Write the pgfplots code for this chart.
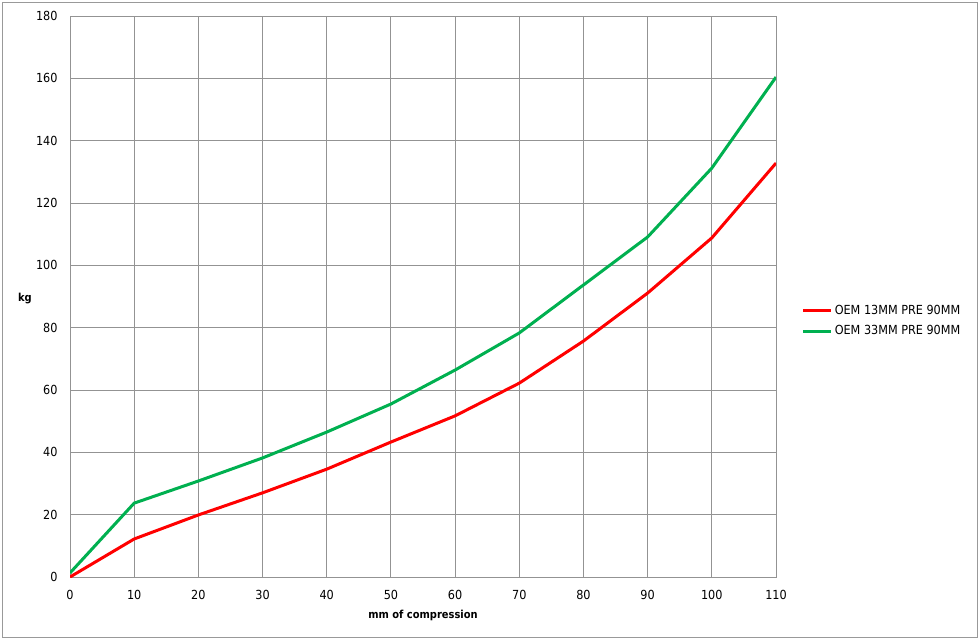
\documentclass[border=0pt]{standalone}
\usepackage{pgfplots}
\pgfplotsset{compat=1.18}
\usepackage{fontspec}
\setmainfont{DejaVu Sans Condensed}
\begin{document}
\begin{tikzpicture}
\path[fill=white] (0pt,0pt) rectangle (980pt,641pt);
\draw[gray!80,line width=1pt] (2.5pt,3.5pt) rectangle (977.5pt,638.5pt);
\begin{axis}[
  at={(70pt,64pt)}, anchor=south west,
  scale only axis, width=706pt, height=561pt,
  xmin=0, xmax=110, ymin=0, ymax=180,
  xtick={0,10,...,110}, ytick={0,20,...,180},
  grid=major, grid style={gray!85, line width=0.9pt},
  axis line style={gray!85, line width=0.9pt},
  major tick length=0pt,
  tick label style={font=\fontsize{12.5}{14}\selectfont},
  /pgf/number format/assume math mode=true,
  xticklabel style={yshift=-10pt},
  yticklabel style={xshift=-9pt},
  xlabel={\textbf{mm of compression}},
  xlabel style={font=\fontsize{11}{12}\selectfont, yshift=-3pt},
  ylabel={\textbf{kg}},
  ylabel style={font=\fontsize{11}{12}\selectfont, rotate=-90, at={(rel axis cs:0,0.5)}, anchor=center, xshift=-45pt, yshift=-2pt},
  legend style={at={(rel axis cs:1.032,0.457)}, anchor=west, draw=none, fill=none,
    font=\fontsize{12.5}{14}\selectfont, row sep=6pt},
  legend cell align=left,
  legend image code/.code={\draw[#1] (0pt,0pt) -- (28pt,0pt);},
]
\addplot[color={rgb,255:red,255;green,0;blue,0}, line width=3pt] coordinates {
(0,0) (10,12.2) (20,19.9) (30,27) (40,34.6) (50,43.3) (60,51.7) (70,62.2) (80,75.7) (90,91.1) (100,108.8) (110,132.8)};
\addlegendentry{OEM 13MM PRE 90MM}
\addplot[color={rgb,255:red,0;green,176;blue,80}, line width=3pt] coordinates {
(0,1.3) (10,23.7) (20,30.8) (30,38.2) (40,46.5) (50,55.5) (60,66.4) (70,78.3) (80,93.7) (90,109.1) (100,131.2) (110,160.4)};
\addlegendentry{OEM 33MM PRE 90MM}
\end{axis}
\end{tikzpicture}
\end{document}
